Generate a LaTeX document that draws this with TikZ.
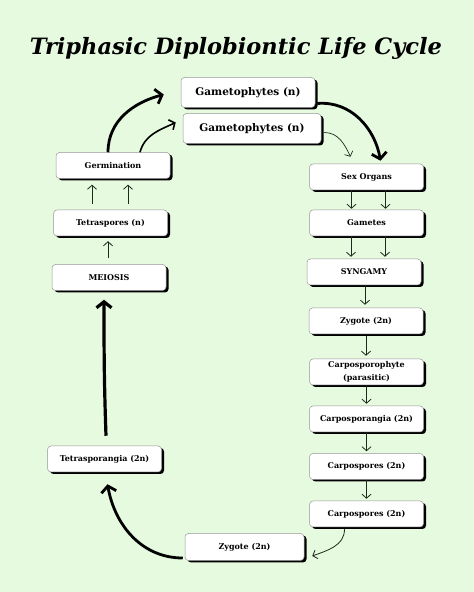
\documentclass[tikz,border=0pt]{standalone}
\usepackage{fontspec}
\setmainfont{DejaVu Serif}
\usepackage{tikz}
\usetikzlibrary{arrows,arrows.meta,calc,positioning,shadows}
\definecolor{bgmint}{RGB}{230,250,224}
\definecolor{boxline}{RGB}{150,150,150}
\definecolor{arrowink}{RGB}{28,42,28}

\begin{document}
\begin{tikzpicture}[x=1pt,y=1pt,
    stage/.style={rectangle,draw=boxline,line width=0.5pt,fill=white,rounded corners=3.5pt,
      minimum width=114pt,minimum height=26pt,inner sep=1pt,align=center,
      font=\fontsize{8}{9}\selectfont\bfseries,
      drop shadow={shadow xshift=2.5pt,shadow yshift=-2pt,fill=black,opacity=1}},
    bigstage/.style={stage,minimum height=30pt,font=\fontsize{10.5}{12}\selectfont\bfseries},
    flow/.style={draw=arrowink,line width=0.8pt,-{Straight Barb[length=4pt,width=9pt]}},
    bigloop/.style={draw=black,line width=2.8pt,-{Straight Barb[length=6pt,width=15pt]}},
    midloop/.style={draw=black,line width=1.6pt,-{Straight Barb[length=4.5pt,width=11pt]}}]

    \fill[bgmint] (0,0) rectangle (474,592);
    \useasboundingbox (0,0) rectangle (474,592);

    \node at (236,544) (title) {\fontsize{22.5}{26}\selectfont\bfseries\itshape Triphasic Diplobiontic Life Cycle};

    % haploid side (top and left)
    \node at (248,499.5) [bigstage,minimum width=134pt] (gameto1) {Gametophytes (n)};
    \node at (252,463.5) [bigstage,minimum width=138pt] (gameto2) {Gametophytes (n)};
    \node at (113,426.5) [stage] (germination) {Germination};
    \node at (110.5,369) [stage] (tetraspores) {Tetraspores (n)};
    \node at (109,314.5) [stage] (meiosis) {MEIOSIS};

    % right column
    \node at (366.5,415) [stage] (sexorgans) {Sex Organs};
    \node at (366.5,369) [stage] (gametes) {Gametes};
    \node at (364,320) [stage] (syngamy) {SYNGAMY};
    \node at (366,271) [stage] (zygote1) {Zygote (2n)};
    \node at (366.5,220) [stage,font=\fontsize{8}{13}\selectfont\bfseries] (carposporophyte) {Carposporophyte\\(parasitic)};
    \node at (366.5,173) [stage] (carposporangia) {Carposporangia (2n)};
    \node at (366.5,125.5) [stage] (carpospores1) {Carpospores (2n)};
    \node at (366.5,78) [stage] (carpospores2) {Carpospores (2n)};

    % bottom
    \node at (244.5,45) [stage,minimum width=119pt,minimum height=27pt] (zygote2) {Zygote (2n)};
    \node at (104.5,133) [stage] (tetrasporangia) {Tetrasporangia (2n)};

    % germination to gametophytes
    \draw[bigloop] ([xshift=-5] germination.north) to[out=90,in=195] ([xshift=-17,yshift=-2] gameto1.west);
    \draw[midloop] ([xshift=27] germination.north) to[out=75,in=205] ([xshift=-7,yshift=6] gameto2.west);

    % gametophytes to sex organs
    \draw[bigloop] ([xshift=2,yshift=-11] gameto1.east) to[out=5,in=100] ([xshift=14,yshift=3] sexorgans.north);
    \draw[flow,line width=0.7pt] ([xshift=3,yshift=-4] gameto2.east) to[out=0,in=115] ([xshift=-16,yshift=7] sexorgans.north);

    \draw[flow] ([xshift=-15] sexorgans.south) -- ([xshift=-15,yshift=1] gametes.north);
    \draw[flow] ([xshift=19] sexorgans.south) -- ([xshift=19,yshift=1] gametes.north);
    \draw[flow] ([xshift=-15.5] gametes.south) -- ([xshift=-13,yshift=2] syngamy.north);
    \draw[flow] ([xshift=18.5] gametes.south) -- ([xshift=21,yshift=2] syngamy.north);

    \draw[flow] ([xshift=1] syngamy.south) -- ([xshift=-1,yshift=3] zygote1.north);
    \draw[flow] ([yshift=-2] zygote1.south) -- ([xshift=-0.5,yshift=3] carposporophyte.north);
    \draw[flow] (carposporophyte.south) -- ([yshift=2] carposporangia.north);
    \draw[flow] (carposporangia.south) -- ([yshift=2] carpospores1.north);
    \draw[flow] (carpospores1.south) -- ([yshift=2] carpospores2.north);

    % back to the left
    \draw[flow] ([xshift=-22,yshift=-2] carpospores2.south) to[out=-90,in=20] ([xshift=8,yshift=-9] zygote2.east);
    \draw[bigloop] ([xshift=-2,yshift=-11] zygote2.west) to[out=180,in=-80] ([xshift=3,yshift=-12] tetrasporangia.south);
    \draw[bigloop,line width=3.2pt] ([xshift=1.5,yshift=10] tetrasporangia.north) to[out=92,in=-90] ([xshift=-5,yshift=-9] meiosis.south);

    \draw[flow] ([xshift=-1,yshift=6] meiosis.north) -- ([xshift=-2.5,yshift=-5] tetraspores.south);
    \draw[flow] ([xshift=-18.5,yshift=6] tetraspores.north) -- ([xshift=-21,yshift=-6] germination.south);
    \draw[flow] ([xshift=17.5,yshift=6] tetraspores.north) -- ([xshift=15,yshift=-6] germination.south);
\end{tikzpicture}
\end{document}
